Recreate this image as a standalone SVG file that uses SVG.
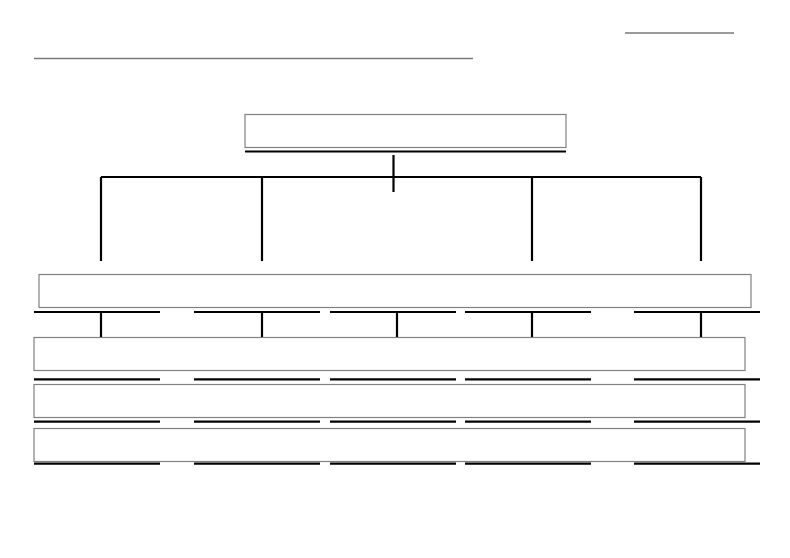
<svg xmlns="http://www.w3.org/2000/svg" width="790" height="558" viewBox="0 0 790 558">
<style>
.box{fill:#fff;stroke:#808080;stroke-width:1.2}
.thin{stroke:#7a7a7a;stroke-width:1.5;fill:none}
.thick{stroke:#000;stroke-width:2.2;fill:none}
</style>
<rect width="790" height="558" fill="#fff"/>
<g id="header-lines">
<line class="thin" x1="625" y1="33" x2="734" y2="33"/>
<line class="thin" x1="34" y1="58.5" x2="473" y2="58.5"/>
</g>
<g id="node-top"><rect class="box" x="245" y="114.5" width="321" height="33"/></g>
<g id="node-row1"><rect class="box" x="39" y="274.5" width="712" height="33"/></g>
<g id="node-row2"><rect class="box" x="34" y="337.5" width="711" height="33"/></g>
<g id="node-row3"><rect class="box" x="34" y="384.5" width="711" height="33"/></g>
<g id="node-row4"><rect class="box" x="34" y="428.5" width="711" height="33"/></g>
<g id="connectors">
<line class="thick" x1="245" y1="151.5" x2="566" y2="151.5"/>
<line class="thick" x1="393.5" y1="155" x2="393.5" y2="192"/>
<line class="thick" x1="101" y1="177" x2="701" y2="177"/>
<line class="thick" x1="101" y1="177" x2="101" y2="261"/>
<line class="thick" x1="262" y1="177" x2="262" y2="261"/>
<line class="thick" x1="532" y1="177" x2="532" y2="261"/>
<line class="thick" x1="701" y1="177" x2="701" y2="261"/>
<g id="seg312">
<line class="thick" x1="34" y1="312" x2="160" y2="312"/>
<line class="thick" x1="194" y1="312" x2="320" y2="312"/>
<line class="thick" x1="330" y1="312" x2="456" y2="312"/>
<line class="thick" x1="465" y1="312" x2="591" y2="312"/>
<line class="thick" x1="634" y1="312" x2="760" y2="312"/>
</g>
<line class="thick" x1="101" y1="312" x2="101" y2="337"/>
<line class="thick" x1="262" y1="312" x2="262" y2="337"/>
<line class="thick" x1="397" y1="312" x2="397" y2="337"/>
<line class="thick" x1="532" y1="312" x2="532" y2="337"/>
<line class="thick" x1="701" y1="312" x2="701" y2="337"/>
<g id="seg379">
<line class="thick" x1="34" y1="379.3" x2="160" y2="379.3"/>
<line class="thick" x1="194" y1="379.3" x2="320" y2="379.3"/>
<line class="thick" x1="330" y1="379.3" x2="456" y2="379.3"/>
<line class="thick" x1="465" y1="379.3" x2="591" y2="379.3"/>
<line class="thick" x1="634" y1="379.3" x2="760" y2="379.3"/>
</g>
<g id="seg421">
<line class="thick" x1="34" y1="421.7" x2="160" y2="421.7"/>
<line class="thick" x1="194" y1="421.7" x2="320" y2="421.7"/>
<line class="thick" x1="330" y1="421.7" x2="456" y2="421.7"/>
<line class="thick" x1="465" y1="421.7" x2="591" y2="421.7"/>
<line class="thick" x1="634" y1="421.7" x2="760" y2="421.7"/>
</g>
<g id="seg463">
<line class="thick" x1="34" y1="463.7" x2="160" y2="463.7"/>
<line class="thick" x1="194" y1="463.7" x2="320" y2="463.7"/>
<line class="thick" x1="330" y1="463.7" x2="456" y2="463.7"/>
<line class="thick" x1="465" y1="463.7" x2="591" y2="463.7"/>
<line class="thick" x1="634" y1="463.7" x2="760" y2="463.7"/>
</g>
</g>
</svg>
